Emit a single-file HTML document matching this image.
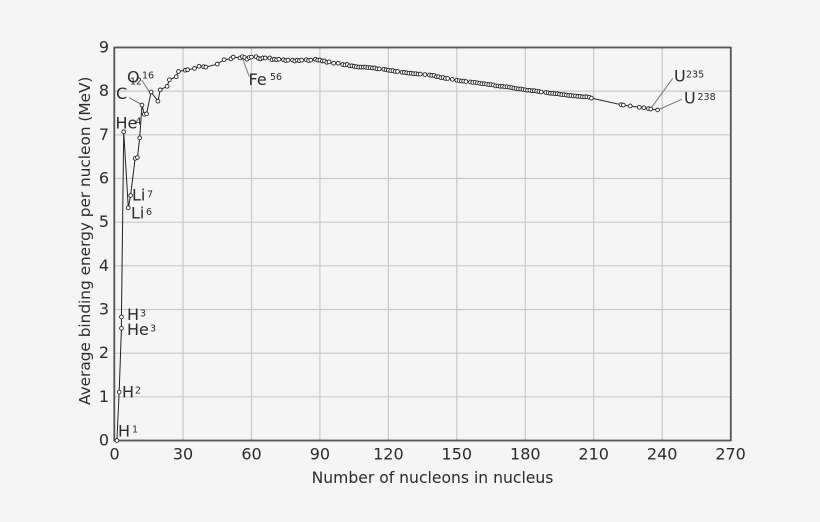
<!DOCTYPE html>
<html><head><meta charset="utf-8"><style>
html,body{margin:0;padding:0;background:#f5f5f5;}
svg{display:block;}
text{font-family:"DejaVu Sans","Liberation Sans",sans-serif;fill:#2b2b2b;}
</style></head><body>
<svg width="820" height="522" viewBox="0 0 820 522" xmlns="http://www.w3.org/2000/svg">
<defs>
<marker id="m" markerUnits="userSpaceOnUse" markerWidth="2.1915" markerHeight="0.1145" viewBox="0 0 5 5" refX="2.5" refY="2.5" preserveAspectRatio="none" overflow="visible">
<circle cx="2.5" cy="2.5" r="1.9" fill="#fff" stroke="#222" stroke-width="0.85"/>
</marker>
</defs>
<rect width="820" height="522" fill="#f5f5f5"/>
<g stroke="#c9c9c9" stroke-width="1.2">
<line x1="114" y1="396.8" x2="731" y2="396.8"/>
<line x1="114" y1="353.2" x2="731" y2="353.2"/>
<line x1="114" y1="309.5" x2="731" y2="309.5"/>
<line x1="114" y1="265.8" x2="731" y2="265.8"/>
<line x1="114" y1="222.2" x2="731" y2="222.2"/>
<line x1="114" y1="178.5" x2="731" y2="178.5"/>
<line x1="114" y1="134.8" x2="731" y2="134.8"/>
<line x1="114" y1="91.1" x2="731" y2="91.1"/>
<line x1="183.0" y1="47.5" x2="183.0" y2="440.5"/>
<line x1="251.5" y1="47.5" x2="251.5" y2="440.5"/>
<line x1="319.9" y1="47.5" x2="319.9" y2="440.5"/>
<line x1="388.4" y1="47.5" x2="388.4" y2="440.5"/>
<line x1="456.8" y1="47.5" x2="456.8" y2="440.5"/>
<line x1="525.3" y1="47.5" x2="525.3" y2="440.5"/>
<line x1="593.7" y1="47.5" x2="593.7" y2="440.5"/>
<line x1="662.2" y1="47.5" x2="662.2" y2="440.5"/>
</g>
<rect x="114.3" y="47.5" width="616.5" height="393" fill="none" stroke="#555" stroke-width="1.8"/>

<g font-size="16" text-anchor="end">
<text x="109" y="445.5">0</text>
<text x="109" y="401.8">1</text>
<text x="109" y="358.2">2</text>
<text x="109" y="314.5">3</text>
<text x="109" y="270.8">4</text>
<text x="109" y="227.2">5</text>
<text x="109" y="183.5">6</text>
<text x="109" y="139.8">7</text>
<text x="109" y="96.1">8</text>
<text x="109" y="52.5">9</text>
</g>
<g font-size="16" text-anchor="middle">
<text x="114.6" y="459.5">0</text>
<text x="183.0" y="459.5">30</text>
<text x="251.5" y="459.5">60</text>
<text x="319.9" y="459.5">90</text>
<text x="388.4" y="459.5">120</text>
<text x="456.8" y="459.5">150</text>
<text x="525.3" y="459.5">180</text>
<text x="593.7" y="459.5">210</text>
<text x="662.2" y="459.5">240</text>
<text x="730.6" y="459.5">270</text>
</g>
<text x="432.5" y="483" font-size="15.6" text-anchor="middle">Number of nucleons in nucleus</text>
<text transform="translate(90,240.8) rotate(-90)" font-size="15.3" text-anchor="middle">Average binding energy per nucleon (MeV)</text>

<g stroke="#777" stroke-width="1">
<line x1="129.3" y1="97.7" x2="140.7" y2="104"/>
<line x1="141.7" y1="80" x2="149.3" y2="91.7"/>
<line x1="242.7" y1="59" x2="249.3" y2="76.7"/>
<line x1="672.7" y1="78.3" x2="651.7" y2="107.3"/>
<line x1="681.7" y1="99.3" x2="660" y2="109"/>
</g>

<polyline transform="translate(114.6,440.5) scale(2.2815,-43.67)" fill="none" stroke="#222" stroke-width="1" vector-effect="non-scaling-stroke" marker-start="url(#m)" marker-mid="url(#m)" marker-end="url(#m)"
points="1,0 2,1.11 3,2.57 3,2.83 4,7.07 6,5.33 7,5.61 9,6.46 10,6.48 11,6.93 12,7.68 13,7.47 14,7.48 16,7.98 19,7.77 20,8.03 23,8.11 24,8.26 27,8.33 28,8.45 31,8.48 32,8.49 35,8.52 37,8.57 39,8.56 40,8.55 45,8.62 48,8.72 51,8.74 52,8.78 55,8.76 56,8.79 57,8.77 58,8.73 59,8.77 60,8.78 62,8.79 63,8.75 64,8.74 65,8.76 66,8.76 68,8.76 69,8.72 70,8.73 71,8.72 72,8.73 74,8.72 75,8.70 76,8.71 78,8.71 79,8.69 80,8.71 81,8.70 82,8.71 84,8.72 85,8.70 86,8.71 88,8.73 89,8.71 90,8.71 91,8.69 92,8.69 93,8.66 94,8.67 96,8.64 98,8.64 100,8.61 101,8.60 102,8.61 103,8.58 104,8.58 105,8.57 106,8.56 107,8.55 108,8.55 109,8.55 110,8.55 111,8.54 112,8.54 113,8.53 114,8.53 115,8.51 116,8.51 118,8.50 119,8.49 120,8.48 121,8.47 122,8.47 123,8.45 124,8.45 126,8.43 127,8.43 128,8.42 129,8.41 130,8.41 131,8.40 132,8.40 133,8.39 134,8.39 136,8.38 138,8.37 139,8.36 140,8.36 141,8.33 142,8.33 143,8.31 144,8.31 145,8.29 146,8.29 148,8.27 150,8.25 151,8.24 152,8.23 153,8.23 154,8.22 156,8.21 157,8.20 158,8.20 159,8.19 160,8.18 161,8.17 162,8.17 163,8.16 164,8.15 165,8.15 166,8.14 167,8.12 168,8.12 169,8.11 170,8.11 171,8.10 172,8.10 173,8.09 174,8.08 175,8.07 176,8.06 177,8.05 178,8.05 179,8.04 180,8.03 181,8.02 182,8.02 183,8.01 184,8.01 185,8.00 186,7.99 187,7.98 189,7.97 190,7.96 191,7.95 192,7.95 193,7.94 194,7.94 195,7.93 196,7.92 197,7.92 198,7.91 199,7.90 200,7.90 201,7.89 202,7.89 203,7.88 204,7.88 205,7.87 206,7.87 207,7.87 208,7.86 209,7.84 222,7.69 223,7.68 226,7.66 230,7.63 232,7.62 234,7.60 235,7.59 238,7.57"/>

<g font-size="16">
<text x="118" y="436.7">H</text><text x="132" y="432.3" font-size="9.5">1</text>
<text x="122" y="397.3">H</text><text x="135" y="393.3" font-size="9.5">2</text>
<text x="127" y="320">H</text><text x="140" y="316.7" font-size="9.5">3</text>
<text x="127" y="335">He</text><text x="150" y="331.7" font-size="9.5">3</text>
<text x="115.5" y="128.3">He</text><text x="135.5" y="124.3" font-size="9.5">4</text>
<text x="132" y="200.7">Li</text><text x="147" y="197.3" font-size="9.5">7</text>
<text x="131" y="218.3">Li</text><text x="146" y="215" font-size="9.5">6</text>
<text x="116" y="99">C</text><text x="130" y="84.5" font-size="9.5">12</text>
<text x="127" y="82.7">O</text><text x="142" y="78.5" font-size="9.5">16</text>
<text x="248.5" y="85">Fe</text><text x="270" y="80.2" font-size="9.5">56</text>
<text x="674" y="81.7">U</text><text x="686" y="77.3" font-size="9.5">235</text>
<text x="684" y="103.3">U</text><text x="697.5" y="100" font-size="9.5">238</text>
</g>
</svg>
</body></html>
